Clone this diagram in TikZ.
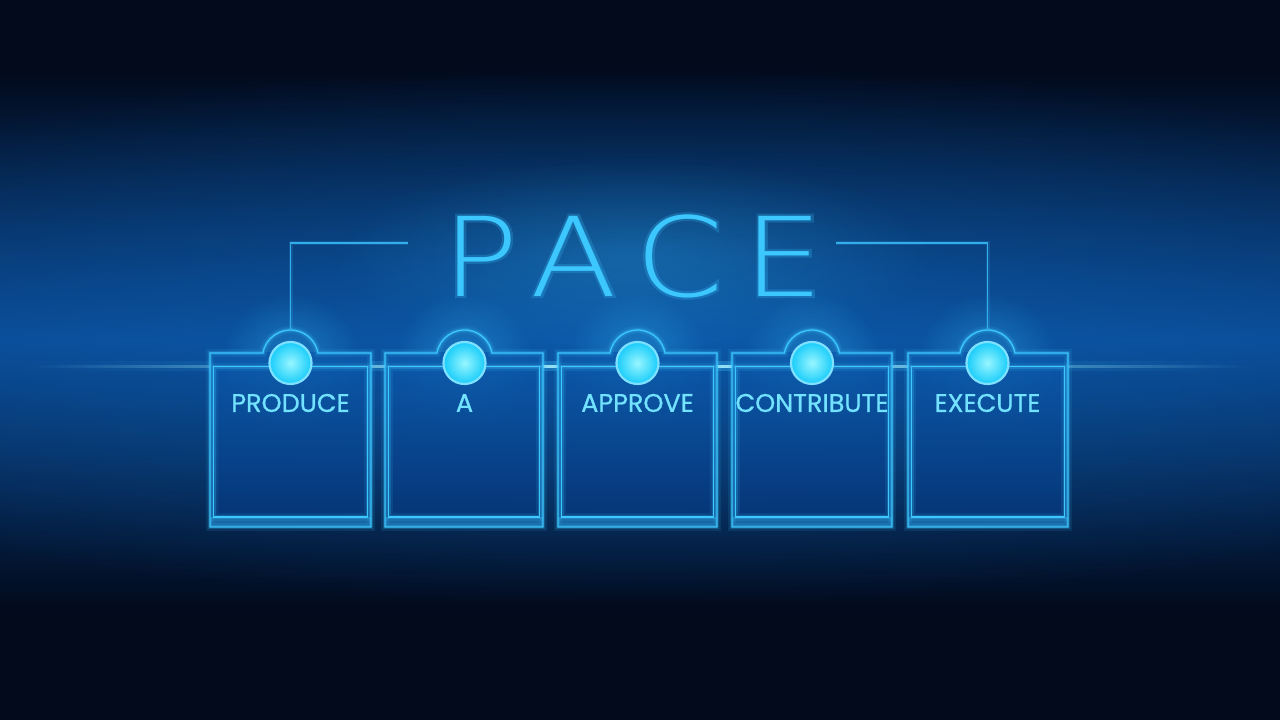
\documentclass[tikz,border=0pt]{standalone}
\usepackage{fontspec}
\setmainfont{Poppins}
\newfontfamily\lblfont{Poppins}[FakeBold=0.8]
\newfontfamily\pacefont{DejaVu Sans}[UprightFont={* ExtraLight}, LetterSpace=16]
\newfontfamily\paceglow{DejaVu Sans}[UprightFont={* ExtraLight}, LetterSpace=16, FakeBold=4]
\usetikzlibrary{fadings}
\definecolor{bgdark}{HTML}{020A1C}
\definecolor{bandblue}{HTML}{0A4A94}
\definecolor{bgglow}{HTML}{0E64B8}
\definecolor{neon}{HTML}{3CC8FF}
\definecolor{neonbright}{HTML}{A8F2FF}
\definecolor{boxtop}{HTML}{0C5AAC}
\definecolor{boxbot}{HTML}{06367A}
\definecolor{labelc}{HTML}{72E2FF}
\definecolor{dotin}{HTML}{98F6FF}
\definecolor{dotout}{HTML}{18CCFA}
\tikzfading[name=fadeL, left color=transparent!100, right color=transparent!0]
\tikzfading[name=fadeR, left color=transparent!0, right color=transparent!100]
\tikzfading[name=vband, top color=transparent!100, bottom color=transparent!100, middle color=transparent!0]
\tikzfading[name=glowfade, inner color=transparent!25, outer color=transparent!100]
\tikzset{
  neonline/.style={draw=neon, line width=1.3pt,
    preaction={draw=neon, line width=8pt, opacity=0.10},
    preaction={draw=neon, line width=4pt, opacity=0.22}},
  wire/.style={draw=neon!80!bandblue, line width=1.1pt,
    preaction={draw=neon, line width=4pt, opacity=0.15}},
  dot/.style={circle, minimum size=42pt, inner sep=0pt, draw=neonbright!60!neon, line width=2.2pt,
    inner color=dotin, outer color=dotout},
  lbl/.style={text=labelc, font=\lblfont\fontsize{25.5}{26}\selectfont, inner sep=0pt},
  titlestyle/.style={text=neon, font=\pacefont\fontsize{110}{110}\selectfont, inner sep=0pt},
  titleglow/.style={text=neon, text opacity=0.22, font=\paceglow\fontsize{110}{110}\selectfont, inner sep=0pt}
}
\begin{document}
\begin{tikzpicture}[x=1pt,y=1pt]
\useasboundingbox (0,0) rectangle (1280,720);
\clip (0,0) rectangle (1280,720);
% background
\fill[bgdark] (-20,-20) rectangle (1300,740);
\fill[bandblue, path fading=vband] (-40,110) rectangle (1320,650);
\fill[bgglow, opacity=0.75, path fading=glowfade] (640,385) ellipse [x radius=1100, y radius=270];
% horizontal beam
\fill[neon, opacity=0.35, path fading=fadeL] (30,349) rectangle (640,359);
\fill[neon, opacity=0.35, path fading=fadeR] (640,349) rectangle (1250,359);
\fill[neonbright, path fading=fadeL] (30,352.2) rectangle (640,354.6);
\fill[neonbright, path fading=fadeR] (640,352.2) rectangle (1250,354.6);
% boxes
\foreach \i/\L/\R/\cx/\t in {1/210/371/290.5/PRODUCE, 2/385/543/464.5/A, 3/558/717/637.5/APPROVE, 4/732/892/812/CONTRIBUTE, 5/908/1068/987.5/EXECUTE}{
  \fill[neon, opacity=0.45, path fading=glowfade] (\cx,357) circle (70);
  \shade[top color=boxtop, bottom color=boxbot, opacity=0.85] (\L,193) rectangle (\R,367);
  \draw[neonline] (\L,193) -- (\L,367) -- ({\cx-27.6},367) arc[start angle=169.7, end angle=10.3, radius=28] -- (\R,367) -- (\R,193) -- cycle;
  \draw[neonline] ({\L+3.5},203) -- ({\L+3.5},353.4) -- ({\R-3.5},353.4) -- ({\R-3.5},203) -- cycle;
  \fill[neon, opacity=0.35] (\L,193) rectangle (\R,203);
  \node[dot] (c\i) at (\cx,357) {};
  \coordinate (b\i) at (\cx,390);
  \node[lbl] (t\i) at (\cx,317) {\t};
}
% title
\fill[neon, opacity=0.3, path fading=glowfade] (633,464) ellipse [x radius=300, y radius=100];
\node[titleglow] (titleg) at (633,464) {\scalebox{1.15}[1]{PACE}};
\node[titlestyle] (title) at (633,464) {\scalebox{1.15}[1]{PACE}};
% connectors
\coordinate (k1) at (408,477);
\coordinate (k2) at (836,477);
\draw[wire] (k1) -| (b1);
\draw[wire] (k2) -| (b5);
\end{tikzpicture}
\end{document}
